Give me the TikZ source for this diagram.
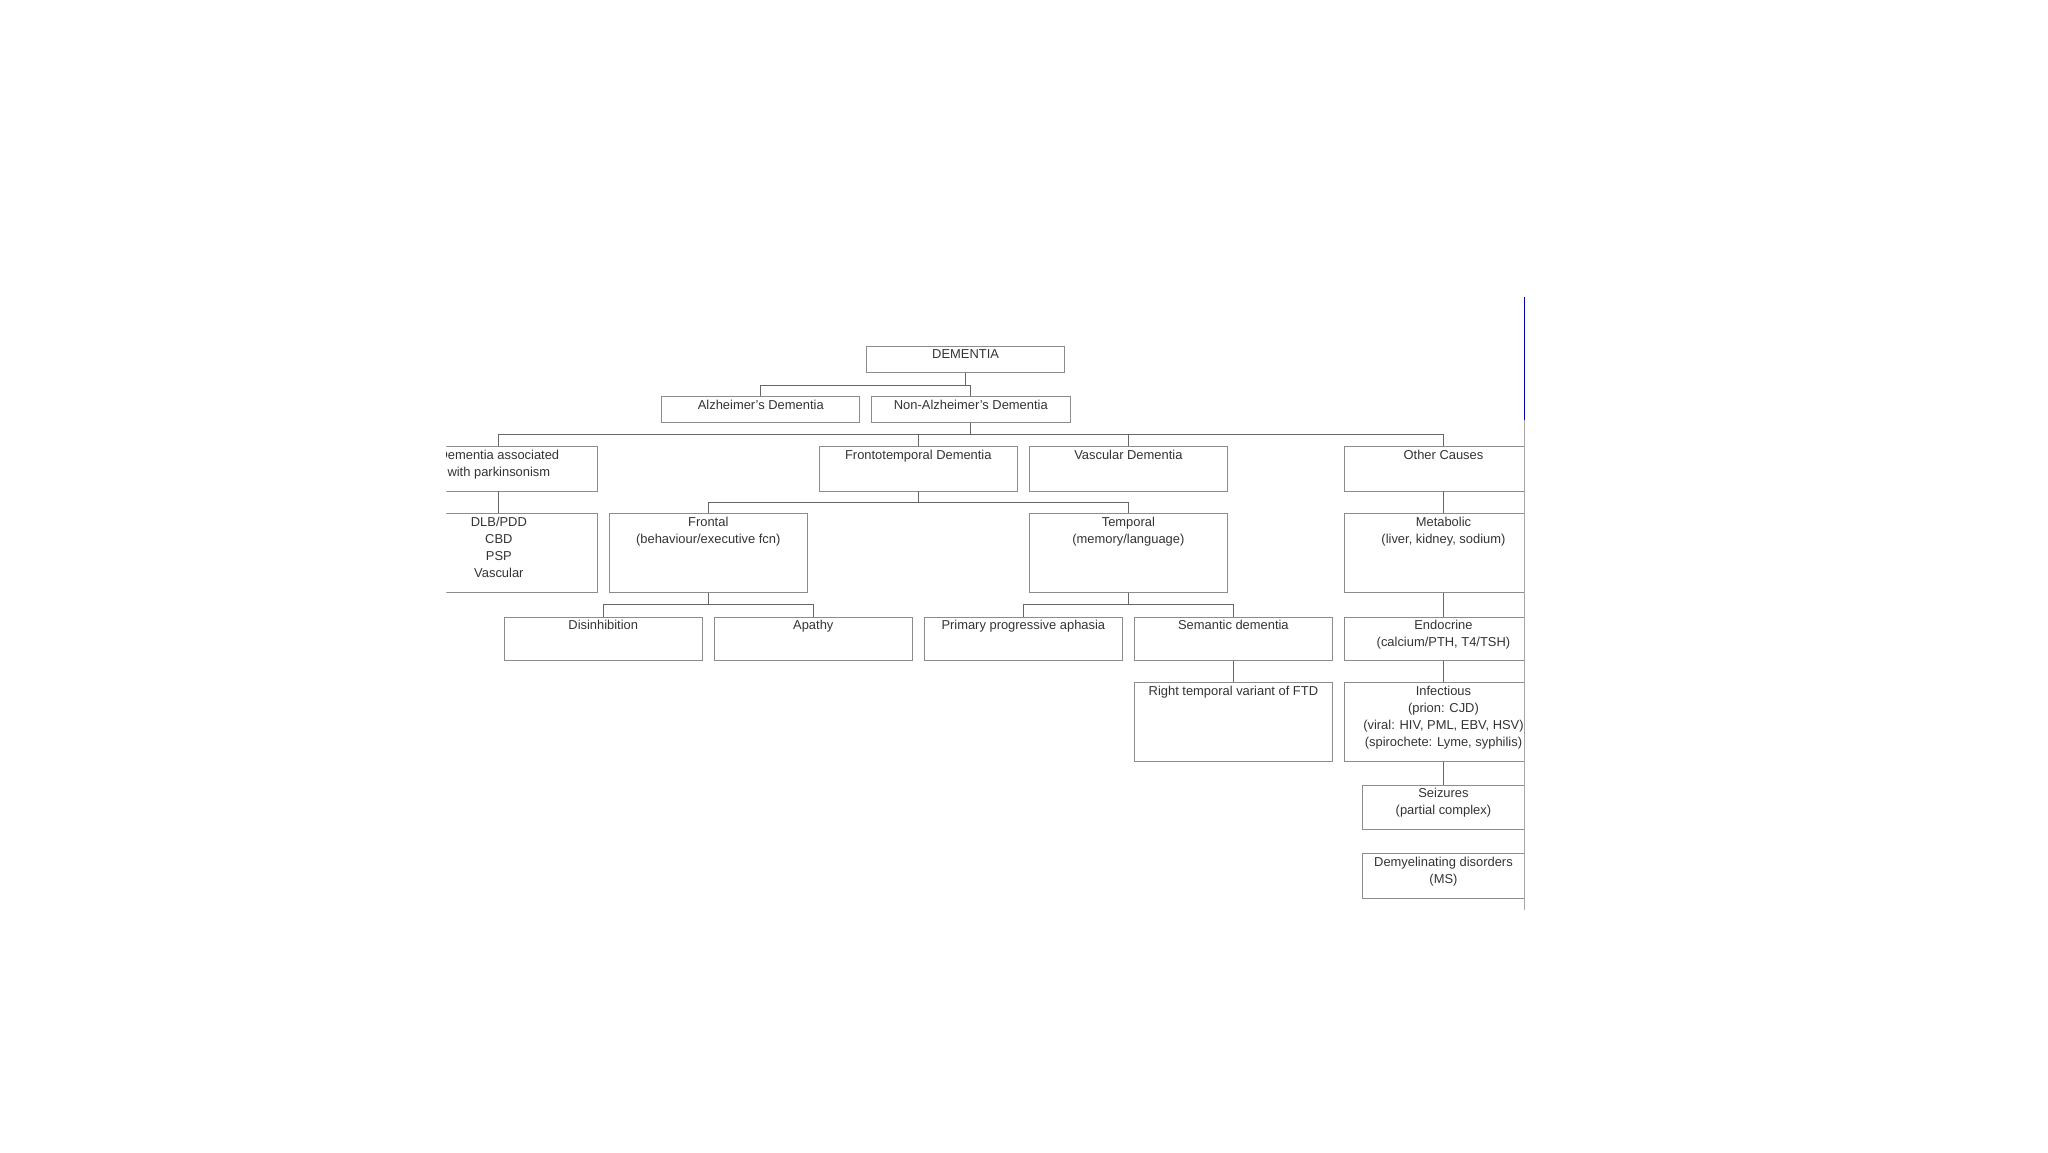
\documentclass[tikz,border=0pt]{standalone}
\usepackage{fontspec}
\setmainfont{Liberation Sans}
\usetikzlibrary{fit}
\tikzset{
 bx/.style={draw=black!45, line width=0.9pt, inner sep=0pt},
 tx/.style={font=\fontsize{14}{18.5}\selectfont, text=black!80, align=center, inner sep=1pt, anchor=north},
 ln/.style={draw=black!60, line width=1.1pt}
}
\newcommand{\bx}[6]{\node[bx, fit={(#2,#3)(#4,#5)}] (#1) {};
 \node[tx] (#1t) at ([yshift=-3pt]#1.north) {#6};}
\begin{document}
\begin{tikzpicture}[x=0.05cm,y=-0.05cm]
\useasboundingbox (0,0) rectangle (1560,878);
\fill[white] (0,0) rectangle (1560,878);
\begin{scope}
\clip (340,200) rectangle (1161,700);
\bx{dem}{660}{264}{811}{284}{DEMENTIA}
\bx{alz}{504}{302}{655}{322}{Alzheimer's Dementia}
\bx{nalz}{664}{302}{815}{322}{Non-Alzheimer's Dementia}
\bx{park}{305}{340}{455}{374}{Dementia associated\\with parkinsonism}
\bx{ftd}{624}{340}{775}{374}{Frontotemporal Dementia}
\bx{vas}{784}{340}{935}{374}{Vascular Dementia}
\bx{oth}{1024}{340}{1175}{374}{Other Causes}
\bx{dlb}{305}{391}{455}{451}{DLB/PDD\\CBD\\PSP\\Vascular}
\bx{fro}{464}{391}{615}{451}{Frontal\\(behaviour/executive fcn)}
\bx{tem}{784}{391}{935}{451}{Temporal\\(memory/language)}
\bx{met}{1024}{391}{1175}{451}{Metabolic\\(liver, kidney, sodium)}
\bx{dis}{384}{470}{535}{503}{Disinhibition}
\bx{apa}{544}{470}{695}{503}{Apathy}
\bx{ppa}{704}{470}{855}{503}{Primary progressive aphasia}
\bx{sem}{864}{470}{1015}{503}{Semantic dementia}
\bx{endo}{1024}{470}{1175}{503}{Endocrine\\(calcium/PTH, T4/TSH)}
\bx{rtv}{864}{520}{1015}{580}{Right temporal variant of FTD}
\bx{inf}{1024}{520}{1175}{580}{Infectious\\(prion: CJD)\\(viral: HIV, PML, EBV, HSV)\\(spirochete: Lyme, syphilis)}
\bx{sei}{1038}{598}{1161}{632}{Seizures\\(partial complex)}
\bx{dmy}{1038}{650}{1161}{684}{Demyelinating disorders\\(MS)}
% connectors
\draw[ln] (alz.north) -- ++(0,-8) -| (dem.south);
\draw[ln] (nalz.north) -- ++(0,-8) -| (dem.south);
\foreach \c in {park,ftd,vas,oth} \draw[ln] (\c.north) -- ++(0,-9) -| (nalz.south);
\foreach \c in {fro,tem} \draw[ln] (\c.north) -- ++(0,-8) -| (ftd.south);
\foreach \c in {dis,apa} \draw[ln] (\c.north) -- ++(0,-9) -| (fro.south);
\foreach \c in {ppa,sem} \draw[ln] (\c.north) -- ++(0,-9) -| (tem.south);
\draw[ln] (park.south) -- (dlb.north);
\draw[ln] (sem.south) -- (rtv.north);
\draw[ln] (oth.south) -- (met.north);
\draw[ln] (met.south) -- (endo.north);
\draw[ln] (endo.south) -- (inf.north);
\draw[ln] (inf.south) -- (inf.south |- sei.north);
\draw[ln] (sei.south) -- (sei.south -| dmy.north);
\end{scope}
\draw[black!35, line width=1pt] (1161,320) -- (1161,693);
\draw[blue!70!black, line width=1.2pt] (1161,226) -- (1161,320);
\end{tikzpicture}
\end{document}
